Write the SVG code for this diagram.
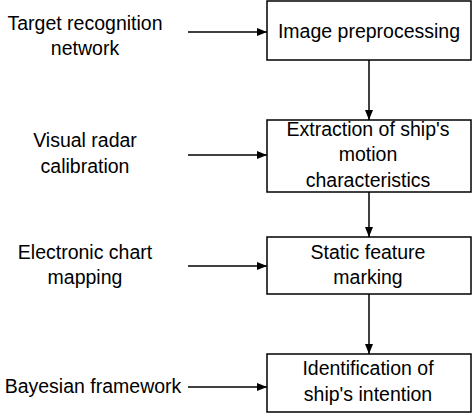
<svg xmlns="http://www.w3.org/2000/svg" width="474" height="415" viewBox="0 0 474 415">
<defs>
<marker id="ah" markerWidth="10" markerHeight="8" refX="10" refY="4" orient="auto" markerUnits="userSpaceOnUse">
<path d="M0,0 L10,4 L0,8 Z" fill="#000"/>
</marker>
<style>
.box{fill:#fff;stroke:#000;stroke-width:1.5}
.t{font-family:"Liberation Sans",Arial,sans-serif;font-size:19.5px;fill:#000;text-anchor:middle}
.c{stroke:#000;stroke-width:1.5;fill:none;marker-end:url(#ah)}
</style>
</defs>
<rect width="474" height="415" fill="#fff"/>
<g id="connectors">
<line class="c" x1="369" y1="60" x2="369" y2="120"/>
<line class="c" x1="369" y1="192" x2="369" y2="237"/>
<line class="c" x1="369" y1="294" x2="369" y2="354"/>
<line class="c" x1="188" y1="32" x2="267" y2="32"/>
<line class="c" x1="188" y1="155" x2="267" y2="155"/>
<line class="c" x1="188" y1="266" x2="267" y2="266"/>
<line class="c" x1="188" y1="387" x2="267" y2="387"/>
</g>
<g id="n1"><rect class="box" x="267" y="1" width="204" height="59"/><text class="t" x="369" y="38">Image preprocessing</text></g>
<g id="n2"><rect class="box" x="267" y="120" width="204" height="72"/><text class="t" x="368" y="136">Extraction of ship's</text><text class="t" x="368" y="161">motion</text><text class="t" x="368" y="187">characteristics</text></g>
<g id="n3"><rect class="box" x="267" y="237" width="204" height="57"/><text class="t" x="368" y="259">Static feature</text><text class="t" x="368" y="284">marking</text></g>
<g id="n4"><rect class="box" x="267" y="354" width="204" height="58"/><text class="t" x="368" y="375">Identification of</text><text class="t" x="368" y="401">ship's intention</text></g>
<g id="l1"><text class="t" x="85" y="30">Target recognition</text><text class="t" x="85" y="55">network</text></g>
<g id="l2"><text class="t" x="85" y="147">Visual radar</text><text class="t" x="85" y="173">calibration</text></g>
<g id="l3"><text class="t" x="85" y="259">Electronic chart</text><text class="t" x="85" y="284">mapping</text></g>
<g id="l4"><text class="t" x="93" y="393">Bayesian framework</text></g>
</svg>
